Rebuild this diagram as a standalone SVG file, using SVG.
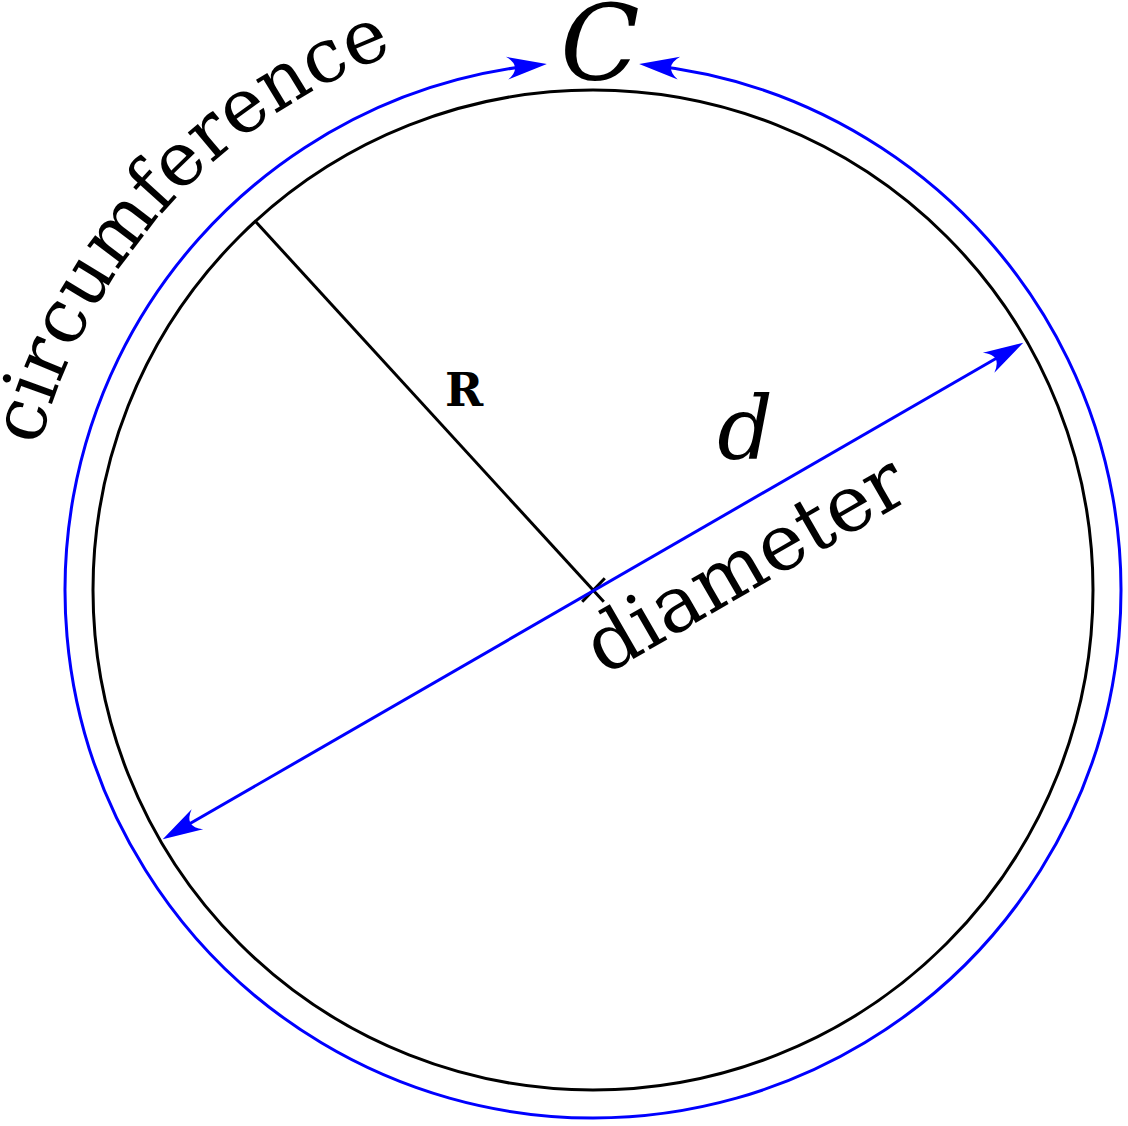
<svg xmlns="http://www.w3.org/2000/svg" width="1128" height="1126" viewBox="0 0 1128 1126">
  <style>
    .blk { fill: none; stroke: #000; stroke-width: 3; }
    .blu { fill: none; stroke: #0000ff; stroke-width: 3; }
    .lbl { font-family: "DejaVu Serif", "Liberation Serif", serif; fill: #000; }
  </style>
  <defs>
    <marker id="arr" markerUnits="userSpaceOnUse" orient="auto-start-reverse" markerWidth="60" markerHeight="40" refX="0" refY="0" overflow="visible">
      <path d="M10,0 L-30,-11.5 Q-14,0 -30,11.5 Z" fill="#0000ff"/>
    </marker>
    <path id="circPath" d="M39.2,446.8 A572 572 0 0 1 879,94.6"/>
  </defs>
  <rect width="1128" height="1126" fill="#fff"/>

  <g id="circle">
    <circle class="blk" cx="593" cy="590" r="500"/>
  </g>

  <g id="center">
    <path class="blk" d="M582.2,601.8 L604.8,578.2 M593,590 L603.8,601.8"/>
  </g>

  <g id="connectors">
    <path id="radius" class="blk" d="M256,222 L593,590"/>
    <path id="diameter" class="blu" d="M171.4,834.3 L1014.6,347.7" marker-start="url(#arr)" marker-end="url(#arr)"/>
    <path id="circumference" class="blu" d="M536.9,65 A528 528 0 1 0 649.1,65" marker-start="url(#arr)" marker-end="url(#arr)"/>
  </g>

  <g id="label-C">
    <text class="lbl" x="600" y="80" font-size="104" font-style="italic" text-anchor="middle">C</text>
  </g>
  <g id="label-d">
    <text class="lbl" x="745" y="459" font-size="87" font-style="italic" text-anchor="middle">d</text>
  </g>
  <g id="label-R">
    <text class="lbl" x="464" y="406" font-size="46" font-weight="bold" text-anchor="middle">R</text>
  </g>
  <g id="label-diameter">
    <text class="lbl" transform="translate(604,676) rotate(-30)" font-size="78">diameter</text>
  </g>
  <g id="label-circumference">
    <text class="lbl" font-size="75"><textPath href="#circPath">circumference</textPath></text>
  </g>
</svg>
